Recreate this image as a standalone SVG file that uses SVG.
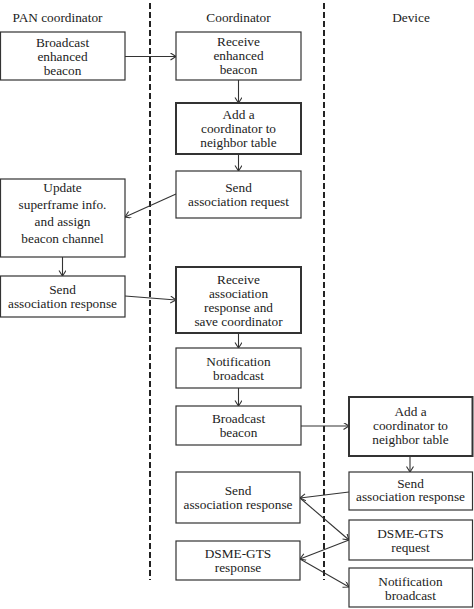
<svg xmlns="http://www.w3.org/2000/svg" width="474" height="609" viewBox="0 0 474 609">
<defs>
<marker id="arr" markerWidth="8" markerHeight="8" refX="6" refY="3.5" orient="auto" markerUnits="userSpaceOnUse">
<path d="M0.5,0 L6,3.5 L0.5,7" fill="none" stroke="#333" stroke-width="1.1"/>
</marker>
<style>
text{font-family:"Liberation Serif","Times New Roman",serif;font-size:13.3px;fill:#222;text-anchor:middle}
.box{fill:#fff;stroke:#333;stroke-width:1.2}
.thick{stroke-width:2}
.lane{stroke:#222;stroke-width:2;stroke-dasharray:6,3;fill:none}
.c{stroke:#333;stroke-width:1.1;fill:none;marker-end:url(#arr)}
</style>
</defs>
<rect width="474" height="609" fill="#fff"/>
<g id="lanes">
<line class="lane" x1="150" y1="3" x2="150" y2="580"/>
<line class="lane" x1="324" y1="3" x2="324" y2="580"/>
<text x="57.5" y="21.5">PAN coordinator</text>
<text x="238.5" y="21.5">Coordinator</text>
<text x="411" y="21.5">Device</text>
</g>
<g id="connectors">
<line class="c" x1="125" y1="56.5" x2="176" y2="56.5"/>
<line class="c" x1="238.5" y1="80" x2="238.5" y2="103"/>
<line class="c" x1="238.5" y1="154" x2="238.5" y2="171"/>
<line class="c" x1="176" y1="194" x2="125" y2="217"/>
<line class="c" x1="62.5" y1="257" x2="62.5" y2="276"/>
<line class="c" x1="125" y1="296" x2="176" y2="300"/>
<line class="c" x1="238.5" y1="333" x2="238.5" y2="348"/>
<line class="c" x1="238.5" y1="388" x2="238.5" y2="406"/>
<line class="c" x1="301" y1="426" x2="349" y2="426"/>
<line class="c" x1="410" y1="456" x2="410" y2="472"/>
<line class="c" x1="349" y1="492" x2="300" y2="498"/>
<line class="c" x1="300" y1="498" x2="349" y2="540"/>
<line class="c" x1="349" y1="540" x2="300" y2="559"/>
<line class="c" x1="300" y1="559" x2="349" y2="587"/>
</g>
<g id="pan1">
<rect class="box" x="0.5" y="32" width="124.5" height="48"/>
<text x="62.5" y="46.5">Broadcast</text>
<text x="62.5" y="60.5">enhanced</text>
<text x="62.5" y="74.5">beacon</text>
</g>
<g id="pan2">
<rect class="box" x="0.5" y="179" width="124.5" height="78"/>
<text x="62.5" y="192">Update</text>
<text x="62.5" y="209">superframe info.</text>
<text x="62.5" y="226">and assign</text>
<text x="62.5" y="243">beacon channel</text>
</g>
<g id="pan3">
<rect class="box" x="0.5" y="276" width="124.5" height="41"/>
<text x="62.5" y="294">Send</text>
<text x="62.5" y="308">association response</text>
</g>
<g id="co1">
<rect class="box" x="176" y="32" width="125" height="48"/>
<text x="238.5" y="46">Receive</text>
<text x="238.5" y="60">enhanced</text>
<text x="238.5" y="74">beacon</text>
</g>
<g id="co2">
<rect class="box thick" x="176" y="103" width="125" height="51"/>
<text x="238.5" y="119">Add a</text>
<text x="238.5" y="133">coordinator to</text>
<text x="238.5" y="147">neighbor table</text>
</g>
<g id="co3">
<rect class="box" x="176" y="171" width="125" height="47"/>
<text x="238.5" y="192">Send</text>
<text x="238.5" y="205.5">association request</text>
</g>
<g id="co4">
<rect class="box thick" x="176" y="267" width="125" height="66"/>
<text x="238.5" y="283.5">Receive</text>
<text x="238.5" y="297.5">association</text>
<text x="238.5" y="311.5">response and</text>
<text x="238.5" y="325.5">save coordinator</text>
</g>
<g id="co5">
<rect class="box" x="176" y="348" width="125" height="40"/>
<text x="238.5" y="365.5">Notification</text>
<text x="238.5" y="379.5">broadcast</text>
</g>
<g id="co6">
<rect class="box" x="176" y="406" width="125" height="39"/>
<text x="238.5" y="423">Broadcast</text>
<text x="238.5" y="437">beacon</text>
</g>
<g id="co7">
<rect class="box" x="176" y="472" width="124" height="51"/>
<text x="238" y="495">Send</text>
<text x="238" y="509">association response</text>
</g>
<g id="co8">
<rect class="box" x="176" y="541" width="124" height="39"/>
<text x="238" y="558">DSME-GTS</text>
<text x="238" y="572">response</text>
</g>
<g id="dev1">
<rect class="box thick" x="349" y="397" width="123.5" height="59"/>
<text x="410.5" y="415.5">Add a</text>
<text x="410.5" y="429.5">coordinator to</text>
<text x="410.5" y="443.5">neighbor table</text>
</g>
<g id="dev2">
<rect class="box" x="349" y="472" width="123.5" height="38"/>
<text x="410.5" y="487.5">Send</text>
<text x="410.5" y="501">association response</text>
</g>
<g id="dev3">
<rect class="box" x="349" y="520" width="123.5" height="40"/>
<text x="410.5" y="537.5">DSME-GTS</text>
<text x="410.5" y="551.5">request</text>
</g>
<g id="dev4">
<rect class="box" x="349" y="568" width="123.5" height="39"/>
<text x="410.5" y="586">Notification</text>
<text x="410.5" y="600">broadcast</text>
</g>
</svg>
